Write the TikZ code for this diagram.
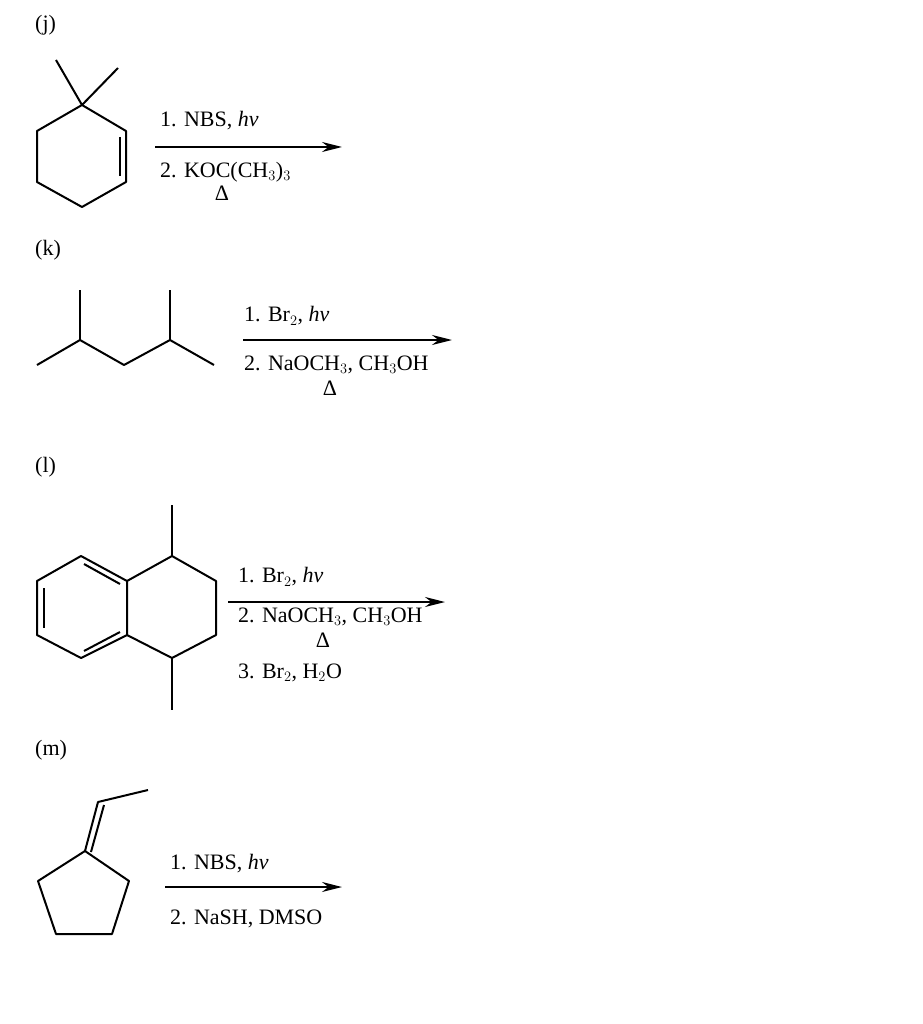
\documentclass[tikz,border=0pt]{standalone}
\usepackage{fontspec}
\setmainfont{Liberation Serif}
\tikzset{bond/.style={line width=2pt,line join=round},
 rxn/.style={line width=1.8pt,-{Stealth[length=20pt,width=10pt]}},
 lbl/.style={anchor=west,inner sep=0pt,font=\fontsize{22}{26}\selectfont},
 ctr/.style={inner sep=0pt,font=\fontsize{22}{26}\selectfont}}
\usetikzlibrary{arrows.meta}
\begin{document}
\begin{tikzpicture}[x=1pt,y=-1pt]
\useasboundingbox (0,0) rectangle (922,1024);
% (j)
\node[lbl] (lj) at (35,25) {(j)};
\draw[bond] (82,105)--(126,131)--(126,182)--(82,207)--(37,182)--(37,131)--cycle;
\draw[bond] (120,137)--(120,176);
\draw[bond] (56,60)--(82,105)--(118,68);
\coordinate (j1) at (155,147); \coordinate (j2) at (342,147);
\draw[rxn] (j1)--(j2);
\node[lbl] (j3) at (160,121) {1. NBS, \textit{hν}};
\node[lbl] (j4) at (160,172) {2. KOC(CH$_3$)$_3$};
\node[ctr] (j5) at (222,193) {Δ};
% (k)
\node[lbl] (lk) at (35,250) {(k)};
\draw[bond] (37,365)--(80,340)--(124,365)--(170,340)--(214,365);
\draw[bond] (80,340)--(80,290);
\draw[bond] (170,340)--(170,290);
\coordinate (k1) at (243,340); \coordinate (k2) at (452,340);
\draw[rxn] (k1)--(k2);
\node[lbl] (k3) at (244,316) {1. Br$_2$, \textit{hν}};
\node[lbl] (k4) at (244,365) {2. NaOCH$_3$, CH$_3$OH};
\node[ctr] (k5) at (330,388) {Δ};
% (l)
\node[lbl] (ll) at (35,467) {(l)};
\draw[bond] (81,556)--(127,581)--(127,635)--(81,658)--(37,635)--(37,581)--cycle;
\draw[bond] (127,581)--(172,556)--(216,581)--(216,635)--(172,658)--(127,635);
\draw[bond] (172,556)--(172,505);
\draw[bond] (172,658)--(172,710);
\draw[bond] (44,588)--(44,628);
\draw[bond] (84,564)--(120,584);
\draw[bond] (120,632)--(84,651);
\coordinate (l1) at (228,602); \coordinate (l2) at (445,602);
\draw[rxn] (l1)--(l2);
\node[lbl] (l3) at (238,577) {1. Br$_2$, \textit{hν}};
\node[lbl] (l4) at (238,617) {2. NaOCH$_3$, CH$_3$OH};
\node[ctr] (l5) at (323,640) {Δ};
\node[lbl] (l6) at (238,673) {3. Br$_2$, H$_2$O};
% (m)
\node[lbl] (lm) at (35,750) {(m)};
\draw[bond] (85,851)--(129,881)--(112,934)--(56,934)--(38,881)--cycle;
\draw[bond] (85,851)--(98,802)--(148,790);
\draw[bond] (91,852)--(104,805);
\coordinate (m1) at (165,887); \coordinate (m2) at (342,887);
\draw[rxn] (m1)--(m2);
\node[lbl] (m3) at (170,864) {1. NBS, \textit{hν}};
\node[lbl] (m4) at (170,919) {2. NaSH, DMSO};
\end{tikzpicture}
\end{document}
